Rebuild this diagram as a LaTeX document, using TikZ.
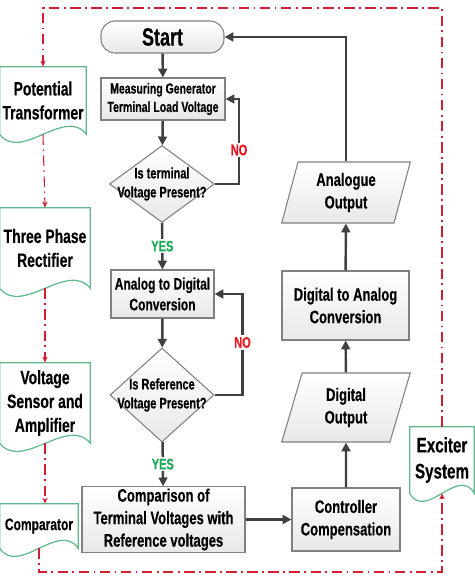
\documentclass[tikz,border=0pt]{standalone}
\usepackage{fontspec}
\setmainfont{Liberation Sans}[FakeStretch=0.72,BoldFeatures={FakeBold=0.4}]
\usetikzlibrary{calc,positioning,arrows.meta,shapes.geometric}
\definecolor{flowgray}{RGB}{64,64,64}
\definecolor{boxedge}{RGB}{128,128,128}
\definecolor{docgreen}{RGB}{95,185,140}
\definecolor{sigred}{RGB}{210,30,50}
\definecolor{nored}{RGB}{230,20,30}
\definecolor{yesgreen}{RGB}{30,170,90}
\tikzset{
  box/.style={draw=boxedge,line width=0.6pt,top color=white,bottom color=gray!18,
              align=center,inner sep=1pt,font={\bfseries\fontsize{10.3}{12.8}\selectfont}},
  term/.style={box,rounded corners=0.28cm},
  dia/.style={draw=boxedge,line width=0.6pt,top color=white,bottom color=gray!18,
              diamond,inner sep=0pt},
  dtext/.style={align=center,font={\bfseries\fontsize{8.7}{10.8}\selectfont}},
  io/.style={box,trapezium,trapezium left angle=76,trapezium right angle=104,
             trapezium stretches=true},
  docu/.style={align=center,inner sep=0pt,font={\bfseries\fontsize{11}{13.6}\selectfont}},
  docline/.style={draw=docgreen,line width=0.7pt},
  flow/.style={draw=flowgray,line width=1.4pt,-{Triangle[length=5pt,width=5pt]}},
  sig/.style={draw=sigred,line width=0.6pt,dash pattern=on 6pt off 2.5pt on 1pt off 2.5pt,
              -{Stealth[length=3.5pt,width=3pt]}},
  nolab/.style={text=nored,fill=white,inner sep=1pt,font={\bfseries\fontsize{8.7}{10}\selectfont}},
  yeslab/.style={text=yesgreen,fill=white,inner sep=1pt,font={\bfseries\fontsize{8.7}{10}\selectfont}},
}
\begin{document}
\begin{tikzpicture}[x=0.02cm,y=-0.02cm]
  \useasboundingbox (0,0) rectangle (474,580);

  \node[term,minimum width=2.46cm,minimum height=0.64cm,
        font={\bfseries\fontsize{14.2}{16}\selectfont}] (start) at (162.5,37) {Start};
  \node[box,minimum width=2.48cm,minimum height=0.84cm,
        font={\bfseries\fontsize{8.3}{10.5}\selectfont}] (meas) at (163,99)
        {Measuring Generator\\Terminal Load Voltage};
  \node[dia,minimum width=2.1cm,minimum height=1.54cm,
        label={[dtext]center:{Is terminal\\Voltage Present?}}] (d1) at (162,184) {};
  \node[box,minimum width=2.06cm,minimum height=0.96cm,
        font={\bfseries\fontsize{9.5}{11.8}\selectfont}] (adc) at (162.5,294)
        {Analog to Digital\\Conversion};
  \node[dia,minimum width=2.08cm,minimum height=1.88cm,
        label={[dtext]center:{Is Reference\\Voltage Present?}}] (d2) at (162,395) {};
  \node[box,minimum width=3.26cm,minimum height=1.26cm] (comp) at (163.5,519.5)
        {Comparison of\\Terminal Voltages with\\Reference voltages};
  \node[box,minimum width=2.16cm,minimum height=1.26cm] (ctrl) at (346,519.5)
        {Controller\\Compensation};
  \node[io,minimum width=2.58cm,minimum height=1.38cm] (dout) at (346,407.5)
        {Digital\\Output};
  \node[box,minimum width=2.54cm,minimum height=1.38cm] (dac) at (345.5,305.5)
        {Digital to Analog\\Conversion};
  \node[io,minimum width=2.58cm,minimum height=1.22cm] (aout) at (346,192.5)
        {Analogue\\Output};

  \node[docu,minimum width=1.72cm,minimum height=1.34cm] (pt) at (43,100.5)
        {Potential\\Transformer};
  \node[docu,minimum width=1.8cm,minimum height=1.6cm] (tpr) at (45,248)
        {Three Phase\\Rectifier};
  \node[docu,minimum width=1.8cm,minimum height=1.6cm] (vsa) at (45,403)
        {Voltage\\Sensor and\\Amplifier};
  \node[docu,minimum width=1.56cm,minimum height=0.88cm,
        font={\bfseries\fontsize{9.5}{11.8}\selectfont}] (cmp) at (39,526) {Comparator};
  \node[docu,minimum width=1.28cm,minimum height=1.32cm,
        font={\bfseries\fontsize{12}{14.8}\selectfont}] (exc) at (442,460) {Exciter\\System};

  \foreach \d in {pt,tpr,vsa,cmp,exc}
    \draw[docline] (\d.south west) -- (\d.north west) -- (\d.north east) -- (\d.south east)
      .. controls ($(\d.south)!0.5!(\d.south east)+(0,-28)$)
      and ($(\d.south)!0.5!(\d.south west)+(0,28)$) .. (\d.south west);

  \draw[flow] (start) -- (meas);
  \draw[flow] (meas) -- (d1);
  \draw[flow] (d1) -- node[yeslab]{YES} (adc);
  \draw[flow] (d1.east) -- ++(24,0) |- node[nolab,pos=0.2]{NO} (meas.east);
  \draw[flow] (adc) -- (d2);
  \draw[flow] (d2) -- node[yeslab]{YES} (comp);
  \draw[flow] (d2.east) -- ++(28,0) |- node[nolab,pos=0.26]{NO} (adc.east);
  \draw[flow] (comp) -- (ctrl);
  \draw[flow] (ctrl) -- (dout);
  \draw[flow] (dout) -- (dac);
  \draw[flow] (dac) -- (aout);
  \draw[flow] (aout.north) |- (start.east);

  \coordinate (topleft) at (43,8);
  \coordinate (botright) at (442,572);
  \draw[sig] (exc.north) |- (topleft) -- (pt.north);
  \draw[sig] (pt.south) -- (tpr.north);
  \draw[sig] (tpr.south) -- (vsa.north);
  \draw[sig] (vsa.south) -- (vsa.south |- cmp.north);
  \draw[sig] (cmp.south) |- (botright) -- (exc.south);
\end{tikzpicture}
\end{document}
